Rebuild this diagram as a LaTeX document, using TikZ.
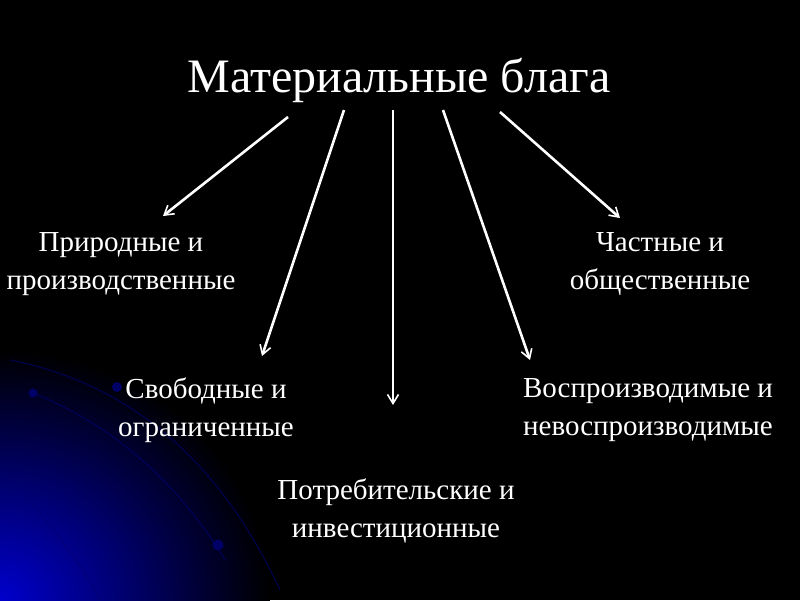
\documentclass[tikz,border=0pt]{standalone}
\usepackage{fontspec}
\setmainfont{Liberation Serif}
\usetikzlibrary{arrows.meta}
\begin{document}
\begin{tikzpicture}[x=1pt,y=-1pt]
\tikzstyle{every node}+=[inner sep=0pt,text=white,align=center]
\tikzstyle{kind}=[font=\fontsize{29}{38}\selectfont]
\tikzstyle{link}=[white,line width=2.6pt,-{Straight Barb[length=9pt,width=11pt,line width=1.6pt]}]
\tikzstyle{orbit}=[blue!45!black,line width=1.2pt,opacity=0.6]
\fill [black] (0,0) rectangle (800,600);
\begin{scope}
\clip (0,0) rectangle (800,600);
\shade [inner color=blue!80!black,outer color=black] (0,600) ellipse (270 and 250);
\draw [orbit] (10,360) .. controls (110,380) and (210,440) .. (280,590);
\draw [orbit] (33,393) .. controls (100,420) and (170,470) .. (225,560);
\draw [orbit] (0,470) .. controls (40,510) and (80,560) .. (100,600);
\fill [blue!40!black] (117,387) circle (5);
\fill [blue!40!black] (33,393) circle (4.5);
\fill [blue!40!black] (218,545) circle (5.5);
\end{scope}
\node (title) at (399,80) [font=\fontsize{48}{56}\selectfont] {Материальные блага};
\node (nat) at (121,264) [kind] {Природные и\\производственные};
\node (priv) at (660,264) [kind] {Частные и\\общественные};
\node (free) at (206,410) [kind] {Свободные и\\ограниченные};
\node (repr) at (648,410) [kind] {Воспроизводимые и\\невоспроизводимые};
\node (cons) at (396,511) [kind] {Потребительские и\\инвестиционные};
\coordinate (s1) at (288,117);
\coordinate (s2) at (344,110);
\coordinate (s3) at (393,110);
\coordinate (s4) at (443,110);
\coordinate (s5) at (500,112);
\coordinate (e1) at (163,216);
\coordinate (e2) at (262,356);
\coordinate (e3) at (393,405);
\coordinate (e4) at (530,360);
\coordinate (e5) at (620,218);
\draw [link] (s1) -- (e1);
\draw [link] (s2) -- (e2);
\draw [link] (s3) -- (e3);
\draw [link] (s4) -- (e4);
\draw [link] (s5) -- (e5);
\end{tikzpicture}
\end{document}
